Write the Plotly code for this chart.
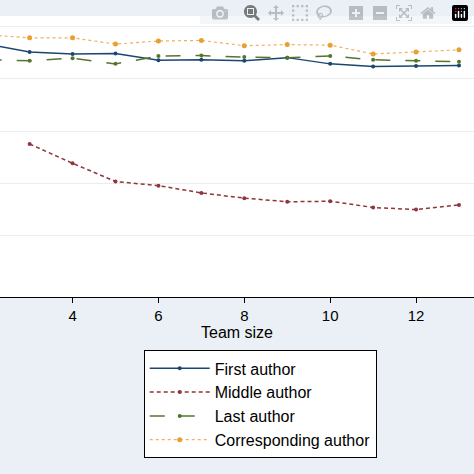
import plotly.graph_objects as go

team_size = [2, 3, 4, 5, 6, 7, 8, 9, 10, 11, 12, 13]
first_author = [0.467, 0.452, 0.448, 0.449, 0.436, 0.437, 0.435, 0.441, 0.429, 0.424, 0.425, 0.426]
middle_x = [3, 4, 5, 6, 7, 8, 9, 10, 11, 12, 13]
middle_author = [0.275, 0.238, 0.203, 0.195, 0.181, 0.171, 0.164, 0.165, 0.153, 0.149, 0.158]
last_author = [0.437, 0.435, 0.440, 0.429, 0.444, 0.445, 0.442, 0.441, 0.444, 0.437, 0.435, 0.433]
corr_author = [0.485, 0.479, 0.479, 0.467, 0.473, 0.474, 0.464, 0.466, 0.465, 0.448, 0.452, 0.456]

fig = go.Figure()
fig.add_trace(go.Scatter(x=team_size, y=first_author, name="First author", mode="lines+markers",
                         line=dict(color="#1a476f", width=1.5), marker=dict(size=4, color="#1a476f")))
fig.add_trace(go.Scatter(x=middle_x, y=middle_author, name="Middle author", mode="lines+markers",
                         line=dict(color="#90353b", width=1.5, dash="4px,3px"), marker=dict(size=4, color="#90353b")))
fig.add_trace(go.Scatter(x=team_size, y=last_author, name="Last author", mode="lines+markers",
                         line=dict(color="#55752f", width=1.5, dash="longdash"), marker=dict(size=4, color="#55752f")))
fig.add_trace(go.Scatter(x=team_size, y=corr_author, name="Corresponding author", mode="lines+markers",
                         line=dict(color="#f0b060", width=1.2, dash="dot"), marker=dict(size=5, color="#e8a030")))

fig.update_layout(
    width=474, height=474,
    margin=dict(l=0, r=0, t=16, b=177),
    paper_bgcolor="#eaf0f5", plot_bgcolor="white",
    font=dict(family="Liberation Sans, Arial", color="black", size=15),
    xaxis=dict(range=[2.31, 13.35], tickvals=[4, 6, 8, 10, 12], ticks="outside", ticklen=5,
               tickcolor="black", showline=True, linecolor="black", showgrid=False, zeroline=False,
               title=dict(text="Team size", standoff=2, font=dict(size=16)), tickfont=dict(size=15)),
    yaxis=dict(range=[-0.019, 0.521], tickvals=[0.1, 0.2, 0.3, 0.4, 0.5], showticklabels=False,
               gridcolor="#e8edf0", zeroline=False, showline=False),
    legend=dict(x=0.549, xanchor="center", y=-0.19, yanchor="top", bgcolor="white",
                bordercolor="black", borderwidth=1, font=dict(size=16), tracegroupgap=0,
                itemwidth=60),
    showlegend=True,
)
fig.write_html("out.html", post_script="document.body.style.margin='0';")
